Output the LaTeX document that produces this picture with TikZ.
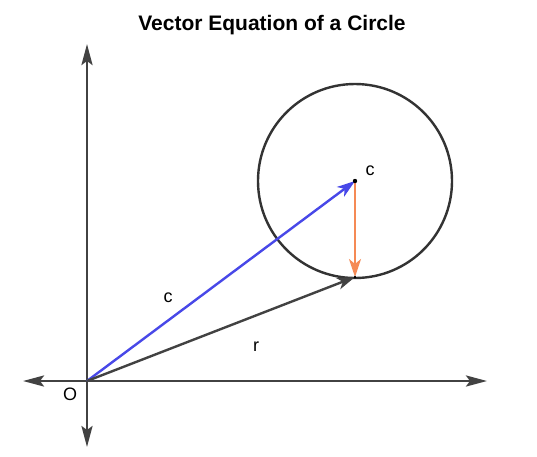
\documentclass[tikz,border=0pt]{standalone}
\usepackage{fontspec}
\setmainfont{Liberation Sans}
\usetikzlibrary{arrows.meta}
\definecolor{axisgray}{HTML}{424242}
\definecolor{vblue}{HTML}{4848E8}
\definecolor{vorange}{HTML}{F58A55}
\definecolor{circgray}{HTML}{333333}
\tikzset{
  axisline/.style={draw=axisgray, line width=2.8pt, -{Stealth[length=21pt, width=11pt, inset=4pt]}},
  vecline/.style={line width=2.4pt, -{Stealth[length=18pt, width=12pt, inset=5pt]}},
  lbl/.style={font=\fontsize{18}{20}\selectfont, text=black, inner sep=0pt},
}
\begin{document}
\begin{tikzpicture}[x=1pt, y=-1pt]
\useasboundingbox (0,0) rectangle (537,456);
\fill[white] (0,0) rectangle (537,456);
\node[font=\fontsize{21}{24}\selectfont\bfseries, inner sep=0pt] (title) at (272,25) {Vector Equation of a Circle};
\coordinate (O) at (87,381);
\coordinate (xr) at (487,381);
\coordinate (xl) at (23,381);
\coordinate (yt) at (87,44);
\coordinate (yb) at (87,447);
\coordinate (C) at (355,181);
\coordinate (P) at (355,277);
\draw[circgray, line width=2.4pt] (C) circle[radius=97];
\draw[axisline] (O) -- (xr);
\draw[axisline] (O) -- (xl);
\draw[axisline] (O) -- (yt);
\draw[axisline] (O) -- (yb);
\draw[vecline, draw=vblue, fill=vblue] (O) -- (C);
\draw[vecline, draw=axisgray, fill=axisgray] (O) -- (P);
\draw[vecline, draw=vorange, fill=vorange] (C) -- (P);
\fill[black] (C) circle[radius=2.2];
\fill[black] (P) circle[radius=1.5];
\node[lbl] (lc) at (370,171) {c};
\node[lbl] (lcv) at (168,298) {c};
\node[lbl] (lr) at (256,347) {r};
\node[lbl] (lo) at (70,394) {O};
\end{tikzpicture}
\end{document}
